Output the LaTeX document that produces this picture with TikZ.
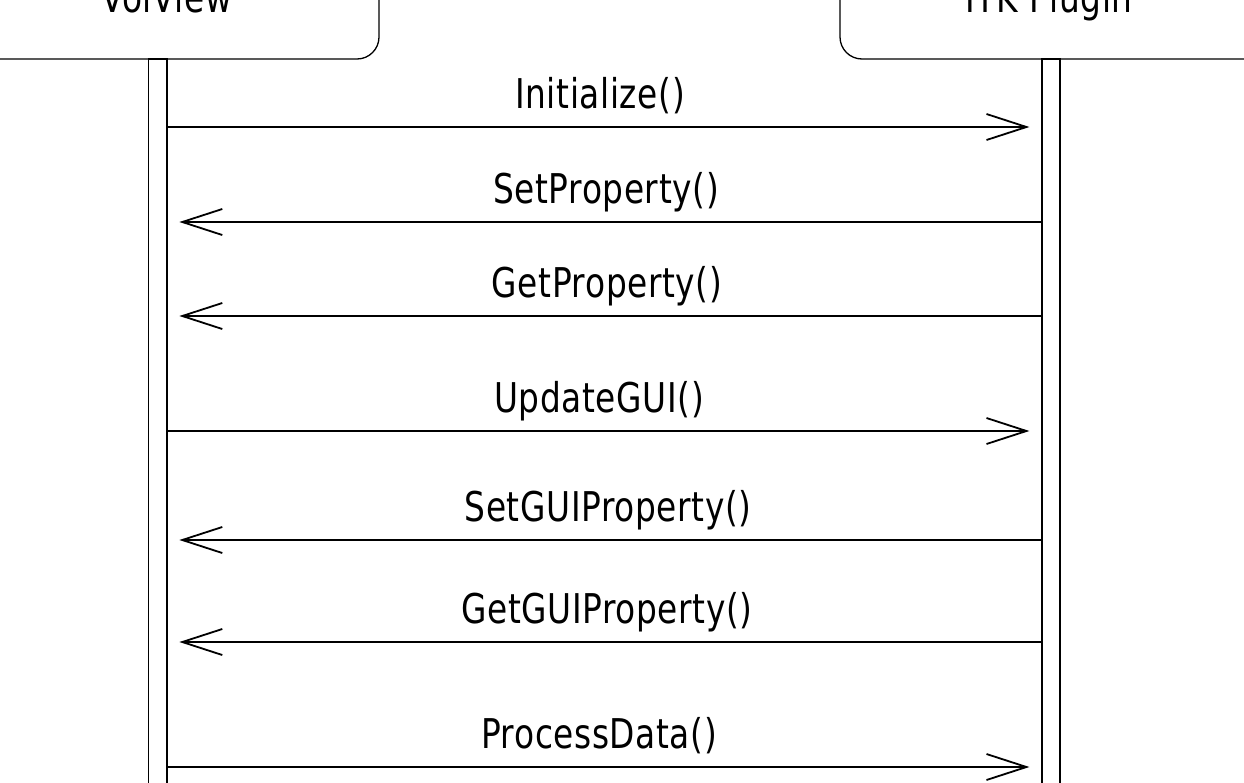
\documentclass[tikz,border=0pt]{standalone}
\usepackage{fontspec}
\setmainfont{DejaVu Sans}[FakeStretch=0.8,LetterSpace=1.5]
\usetikzlibrary{arrows.meta}
\begin{document}
\begin{tikzpicture}[x=1pt,y=-1pt,
actor/.style ={rectangle, draw=black, line width=1.3pt, rounded corners=22pt,
  font=\fontsize{41}{48}\selectfont, text height=30pt, text depth=8pt
},
life/.style ={rectangle, draw=black, line width=1.7pt,
  minimum width=18.5pt, minimum height=760pt, inner sep=0pt
},
call/.style ={line width=1.8pt, shorten >=11.5pt,
  -{Straight Barb[length=40pt, width=26pt]}
},
lbl/.style ={anchor=base, inner sep=0pt, font=\fontsize{41}{48}\selectfont}]
\useasboundingbox (0,0) rectangle (1244,782);
\clip (0,0) rectangle (1244,782);

\node (vl) at (157.75,439) [life] {};
\node (pl) at (1051,439) [life] {};
\node (vv) at (167,1) [actor, minimum width=424pt, minimum height=116pt] {VolView};
\node (itk) at (1070,1) [actor, minimum width=460pt, minimum height=116pt] {ITK Plugin\hspace*{42pt}};

\coordinate (m1) at (0,127);
\coordinate (m2) at (0,222);
\coordinate (m3) at (0,316);
\coordinate (m4) at (0,431);
\coordinate (m5) at (0,540);
\coordinate (m6) at (0,642);
\coordinate (m7) at (0,767);

\node (l1) at (600,108) [lbl] {Initialize()};
\node (l2) at (606,203) [lbl] {SetProperty()};
\node (l3) at (607,297) [lbl] {GetProperty()};
\node (l4) at (599,412) [lbl] {UpdateGUI()};
\node (l5) at (608,521) [lbl] {SetGUIProperty()};
\node (l6) at (607,623) [lbl] {GetGUIProperty()};
\node (l7) at (599,748) [lbl] {ProcessData()};

\draw[call] (vl.east |- m1) -- (pl.west |- m1);
\draw[call] (pl.west |- m2) -- (vl.east |- m2);
\draw[call] (pl.west |- m3) -- (vl.east |- m3);
\draw[call] (vl.east |- m4) -- (pl.west |- m4);
\draw[call] (pl.west |- m5) -- (vl.east |- m5);
\draw[call] (pl.west |- m6) -- (vl.east |- m6);
\draw[call] (vl.east |- m7) -- (pl.west |- m7);
\end{tikzpicture}
\end{document}
